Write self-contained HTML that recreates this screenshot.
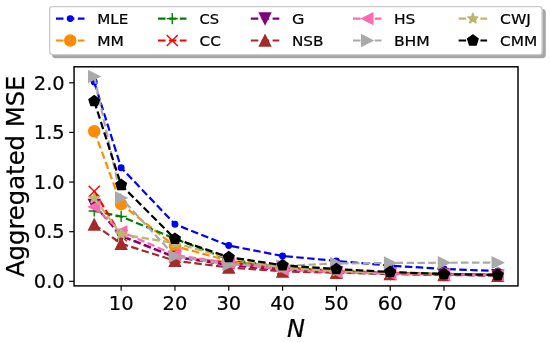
<!DOCTYPE html><html><head><meta charset="utf-8"><style>html,body{margin:0;padding:0;background:#fff;width:550px;height:342px;overflow:hidden}svg{display:block}text{font-family:"DejaVu Sans","Liberation Sans",sans-serif;fill:#000;stroke:#000;stroke-width:0.22px}</style></head><body>
<svg width="550" height="342" viewBox="0 0 550 342">
<rect width="550" height="342" fill="#fff"/>
<rect x="52.7" y="9.6" width="492.4" height="48" rx="2.78" fill="#a6a6a6" stroke="#a6a6a6" stroke-width="1.39"/>
<rect x="49.7" y="6.6" width="492.4" height="48" rx="2.78" fill="#fff" stroke="#cccccc" stroke-width="1.39"/>
<path d="M56 18.6H84.5" stroke="#0000ff" stroke-width="2.2" stroke-dasharray="7.5 3.4" fill="none"/>
<g transform="translate(70.25 18.6)" fill="#0000ff" stroke="#0000ff" stroke-width="1.39"><circle cx="0" cy="0" r="2.78"/></g>
<text x="97.2" y="23.65" font-size="14.8" textLength="31.03" lengthAdjust="spacingAndGlyphs">MLE</text>
<path d="M56 40.5H84.5" stroke="#ff8c00" stroke-width="2.2" stroke-dasharray="7.5 3.4" fill="none"/>
<g transform="translate(70.25 40.5)" fill="#ff8c00" stroke="#ff8c00" stroke-width="1.39"><circle cx="0" cy="0" r="5.56"/></g>
<text x="97.2" y="45.5" font-size="14.8" textLength="26.65" lengthAdjust="spacingAndGlyphs">MM</text>
<path d="M158 18.6H186.5" stroke="#008000" stroke-width="2.2" stroke-dasharray="7.5 3.4" fill="none"/>
<g transform="translate(172.25 18.6)" fill="#008000" stroke="#008000" stroke-width="1.39"><path d="M-5.56 0H5.56M0 -5.56V5.56" fill="none"/></g>
<text x="199.6" y="23.65" font-size="14.8" textLength="19.58" lengthAdjust="spacingAndGlyphs">CS</text>
<path d="M158 40.5H186.5" stroke="#ff0000" stroke-width="2.2" stroke-dasharray="7.5 3.4" fill="none"/>
<g transform="translate(172.25 40.5)" fill="#ff0000" stroke="#ff0000" stroke-width="1.39"><path d="M-5.56 -5.56L5.56 5.56M-5.56 5.56L5.56 -5.56" fill="none"/></g>
<text x="199.6" y="45.5" font-size="14.8" textLength="21.33" lengthAdjust="spacingAndGlyphs">CC</text>
<path d="M250.8 18.6H279.3" stroke="#800080" stroke-width="2.2" stroke-dasharray="7.5 3.4" fill="none"/>
<g transform="translate(265.05 18.6)" fill="#800080" stroke="#800080" stroke-width="1.39"><path d="M-5.56 -5.56L5.56 -5.56L0 5.56Z" stroke-linejoin="miter"/></g>
<text x="292" y="23.65" font-size="14.8" textLength="12.41" lengthAdjust="spacingAndGlyphs">G</text>
<path d="M250.8 40.5H279.3" stroke="#a52a2a" stroke-width="2.2" stroke-dasharray="7.5 3.4" fill="none"/>
<g transform="translate(265.05 40.5)" fill="#a52a2a" stroke="#a52a2a" stroke-width="1.39"><path d="M0 -5.56L-5.56 5.56L5.56 5.56Z" stroke-linejoin="miter"/></g>
<text x="292" y="45.5" font-size="14.8" textLength="31.47" lengthAdjust="spacingAndGlyphs">NSB</text>
<path d="M353 18.6H381.5" stroke="#ff69b4" stroke-width="2.2" stroke-dasharray="7.5 3.4" fill="none"/>
<g transform="translate(367.25 18.6)" fill="#ff69b4" stroke="#ff69b4" stroke-width="1.39"><path d="M-5.56 0L5.56 -5.56L5.56 5.56Z" stroke-linejoin="miter"/></g>
<text x="393.9" y="23.65" font-size="14.8" textLength="21.42" lengthAdjust="spacingAndGlyphs">HS</text>
<path d="M353 40.5H381.5" stroke="#a9a9a9" stroke-width="2.2" stroke-dasharray="7.5 3.4" fill="none"/>
<g transform="translate(367.25 40.5)" fill="#a9a9a9" stroke="#a9a9a9" stroke-width="1.39"><path d="M5.56 0L-5.56 -5.56L-5.56 5.56Z" stroke-linejoin="miter"/></g>
<text x="393.9" y="45.5" font-size="14.8" textLength="35.94" lengthAdjust="spacingAndGlyphs">BHM</text>
<path d="M458.6 18.6H487.1" stroke="#bdb76b" stroke-width="2.2" stroke-dasharray="7.5 3.4" fill="none"/>
<g transform="translate(472.85 18.6)" fill="#bdb76b" stroke="#bdb76b" stroke-width="1.39"><path d="M0 -5.56L-1.25 -1.72L-5.28 -1.72L-2.02 0.66L-3.27 4.49L-0 2.12L3.27 4.49L2.02 0.66L5.28 -1.72L1.25 -1.72Z" stroke-linejoin="bevel"/></g>
<text x="500.1" y="23.65" font-size="14.8" textLength="30.85" lengthAdjust="spacingAndGlyphs">CWJ</text>
<path d="M458.6 40.5H487.1" stroke="#000000" stroke-width="2.2" stroke-dasharray="7.5 3.4" fill="none"/>
<g transform="translate(472.85 40.5)" fill="#000000" stroke="#000000" stroke-width="1.39"><path d="M0 -5.56L-5.28 -1.72L-3.27 4.49L3.27 4.49L5.28 -1.72Z" stroke-linejoin="miter"/></g>
<text x="500.1" y="45.5" font-size="14.8" textLength="37.19" lengthAdjust="spacingAndGlyphs">CMM</text>
<polyline points="94.23,82.01 121.14,167.66 174.95,224.23 228.76,245.57 282.57,255.99 336.38,260.95 390.2,265.62 444.01,268.99 497.82,271.08" fill="none" stroke="#0000ff" stroke-width="2.2" stroke-dasharray="7.5 3.4" stroke-linejoin="round"/>
<g transform="translate(94.23 82.01)" fill="#0000ff" stroke="#0000ff" stroke-width="1.39"><circle cx="0" cy="0" r="2.78"/></g>
<g transform="translate(121.14 167.66)" fill="#0000ff" stroke="#0000ff" stroke-width="1.39"><circle cx="0" cy="0" r="2.78"/></g>
<g transform="translate(174.95 224.23)" fill="#0000ff" stroke="#0000ff" stroke-width="1.39"><circle cx="0" cy="0" r="2.78"/></g>
<g transform="translate(228.76 245.57)" fill="#0000ff" stroke="#0000ff" stroke-width="1.39"><circle cx="0" cy="0" r="2.78"/></g>
<g transform="translate(282.57 255.99)" fill="#0000ff" stroke="#0000ff" stroke-width="1.39"><circle cx="0" cy="0" r="2.78"/></g>
<g transform="translate(336.38 260.95)" fill="#0000ff" stroke="#0000ff" stroke-width="1.39"><circle cx="0" cy="0" r="2.78"/></g>
<g transform="translate(390.2 265.62)" fill="#0000ff" stroke="#0000ff" stroke-width="1.39"><circle cx="0" cy="0" r="2.78"/></g>
<g transform="translate(444.01 268.99)" fill="#0000ff" stroke="#0000ff" stroke-width="1.39"><circle cx="0" cy="0" r="2.78"/></g>
<g transform="translate(497.82 271.08)" fill="#0000ff" stroke="#0000ff" stroke-width="1.39"><circle cx="0" cy="0" r="2.78"/></g>
<polyline points="94.23,131.23 121.14,204.18 174.95,246.07 228.76,260.95 282.57,266.91 336.38,270.58 390.2,272.67 444.01,273.76 497.82,274.55" fill="none" stroke="#ff8c00" stroke-width="2.2" stroke-dasharray="7.5 3.4" stroke-linejoin="round"/>
<g transform="translate(94.23 131.23)" fill="#ff8c00" stroke="#ff8c00" stroke-width="1.39"><circle cx="0" cy="0" r="5.56"/></g>
<g transform="translate(121.14 204.18)" fill="#ff8c00" stroke="#ff8c00" stroke-width="1.39"><circle cx="0" cy="0" r="5.56"/></g>
<g transform="translate(174.95 246.07)" fill="#ff8c00" stroke="#ff8c00" stroke-width="1.39"><circle cx="0" cy="0" r="5.56"/></g>
<g transform="translate(228.76 260.95)" fill="#ff8c00" stroke="#ff8c00" stroke-width="1.39"><circle cx="0" cy="0" r="5.56"/></g>
<g transform="translate(282.57 266.91)" fill="#ff8c00" stroke="#ff8c00" stroke-width="1.39"><circle cx="0" cy="0" r="5.56"/></g>
<g transform="translate(336.38 270.58)" fill="#ff8c00" stroke="#ff8c00" stroke-width="1.39"><circle cx="0" cy="0" r="5.56"/></g>
<g transform="translate(390.2 272.67)" fill="#ff8c00" stroke="#ff8c00" stroke-width="1.39"><circle cx="0" cy="0" r="5.56"/></g>
<g transform="translate(444.01 273.76)" fill="#ff8c00" stroke="#ff8c00" stroke-width="1.39"><circle cx="0" cy="0" r="5.56"/></g>
<g transform="translate(497.82 274.55)" fill="#ff8c00" stroke="#ff8c00" stroke-width="1.39"><circle cx="0" cy="0" r="5.56"/></g>
<polyline points="94.23,210.93 121.14,216.49 174.95,238.72 228.76,259.47 282.57,267.21 336.38,270.78 390.2,272.76 444.01,273.86 497.82,274.55" fill="none" stroke="#008000" stroke-width="2.2" stroke-dasharray="7.5 3.4" stroke-linejoin="round"/>
<g transform="translate(94.23 210.93)" fill="#008000" stroke="#008000" stroke-width="1.39"><path d="M-5.56 0H5.56M0 -5.56V5.56" fill="none"/></g>
<g transform="translate(121.14 216.49)" fill="#008000" stroke="#008000" stroke-width="1.39"><path d="M-5.56 0H5.56M0 -5.56V5.56" fill="none"/></g>
<g transform="translate(174.95 238.72)" fill="#008000" stroke="#008000" stroke-width="1.39"><path d="M-5.56 0H5.56M0 -5.56V5.56" fill="none"/></g>
<g transform="translate(228.76 259.47)" fill="#008000" stroke="#008000" stroke-width="1.39"><path d="M-5.56 0H5.56M0 -5.56V5.56" fill="none"/></g>
<g transform="translate(282.57 267.21)" fill="#008000" stroke="#008000" stroke-width="1.39"><path d="M-5.56 0H5.56M0 -5.56V5.56" fill="none"/></g>
<g transform="translate(336.38 270.78)" fill="#008000" stroke="#008000" stroke-width="1.39"><path d="M-5.56 0H5.56M0 -5.56V5.56" fill="none"/></g>
<g transform="translate(390.2 272.76)" fill="#008000" stroke="#008000" stroke-width="1.39"><path d="M-5.56 0H5.56M0 -5.56V5.56" fill="none"/></g>
<g transform="translate(444.01 273.86)" fill="#008000" stroke="#008000" stroke-width="1.39"><path d="M-5.56 0H5.56M0 -5.56V5.56" fill="none"/></g>
<g transform="translate(497.82 274.55)" fill="#008000" stroke="#008000" stroke-width="1.39"><path d="M-5.56 0H5.56M0 -5.56V5.56" fill="none"/></g>
<polyline points="94.23,191.38 121.14,235.65 174.95,257.48 228.76,262.44 282.57,268.89 336.38,271.87 390.2,273.36 444.01,274.35 497.82,274.95" fill="none" stroke="#ff0000" stroke-width="2.2" stroke-dasharray="7.5 3.4" stroke-linejoin="round"/>
<g transform="translate(94.23 191.38)" fill="#ff0000" stroke="#ff0000" stroke-width="1.39"><path d="M-5.56 -5.56L5.56 5.56M-5.56 5.56L5.56 -5.56" fill="none"/></g>
<g transform="translate(121.14 235.65)" fill="#ff0000" stroke="#ff0000" stroke-width="1.39"><path d="M-5.56 -5.56L5.56 5.56M-5.56 5.56L5.56 -5.56" fill="none"/></g>
<g transform="translate(174.95 257.48)" fill="#ff0000" stroke="#ff0000" stroke-width="1.39"><path d="M-5.56 -5.56L5.56 5.56M-5.56 5.56L5.56 -5.56" fill="none"/></g>
<g transform="translate(228.76 262.44)" fill="#ff0000" stroke="#ff0000" stroke-width="1.39"><path d="M-5.56 -5.56L5.56 5.56M-5.56 5.56L5.56 -5.56" fill="none"/></g>
<g transform="translate(282.57 268.89)" fill="#ff0000" stroke="#ff0000" stroke-width="1.39"><path d="M-5.56 -5.56L5.56 5.56M-5.56 5.56L5.56 -5.56" fill="none"/></g>
<g transform="translate(336.38 271.87)" fill="#ff0000" stroke="#ff0000" stroke-width="1.39"><path d="M-5.56 -5.56L5.56 5.56M-5.56 5.56L5.56 -5.56" fill="none"/></g>
<g transform="translate(390.2 273.36)" fill="#ff0000" stroke="#ff0000" stroke-width="1.39"><path d="M-5.56 -5.56L5.56 5.56M-5.56 5.56L5.56 -5.56" fill="none"/></g>
<g transform="translate(444.01 274.35)" fill="#ff0000" stroke="#ff0000" stroke-width="1.39"><path d="M-5.56 -5.56L5.56 5.56M-5.56 5.56L5.56 -5.56" fill="none"/></g>
<g transform="translate(497.82 274.95)" fill="#ff0000" stroke="#ff0000" stroke-width="1.39"><path d="M-5.56 -5.56L5.56 5.56M-5.56 5.56L5.56 -5.56" fill="none"/></g>
<polyline points="94.23,204.88 121.14,236.04 174.95,256.98 228.76,265.02 282.57,270.38 336.38,272.37 390.2,273.76 444.01,274.65 497.82,275.35" fill="none" stroke="#800080" stroke-width="2.2" stroke-dasharray="7.5 3.4" stroke-linejoin="round"/>
<g transform="translate(94.23 204.88)" fill="#800080" stroke="#800080" stroke-width="1.39"><path d="M-5.56 -5.56L5.56 -5.56L0 5.56Z" stroke-linejoin="miter"/></g>
<g transform="translate(121.14 236.04)" fill="#800080" stroke="#800080" stroke-width="1.39"><path d="M-5.56 -5.56L5.56 -5.56L0 5.56Z" stroke-linejoin="miter"/></g>
<g transform="translate(174.95 256.98)" fill="#800080" stroke="#800080" stroke-width="1.39"><path d="M-5.56 -5.56L5.56 -5.56L0 5.56Z" stroke-linejoin="miter"/></g>
<g transform="translate(228.76 265.02)" fill="#800080" stroke="#800080" stroke-width="1.39"><path d="M-5.56 -5.56L5.56 -5.56L0 5.56Z" stroke-linejoin="miter"/></g>
<g transform="translate(282.57 270.38)" fill="#800080" stroke="#800080" stroke-width="1.39"><path d="M-5.56 -5.56L5.56 -5.56L0 5.56Z" stroke-linejoin="miter"/></g>
<g transform="translate(336.38 272.37)" fill="#800080" stroke="#800080" stroke-width="1.39"><path d="M-5.56 -5.56L5.56 -5.56L0 5.56Z" stroke-linejoin="miter"/></g>
<g transform="translate(390.2 273.76)" fill="#800080" stroke="#800080" stroke-width="1.39"><path d="M-5.56 -5.56L5.56 -5.56L0 5.56Z" stroke-linejoin="miter"/></g>
<g transform="translate(444.01 274.65)" fill="#800080" stroke="#800080" stroke-width="1.39"><path d="M-5.56 -5.56L5.56 -5.56L0 5.56Z" stroke-linejoin="miter"/></g>
<g transform="translate(497.82 275.35)" fill="#800080" stroke="#800080" stroke-width="1.39"><path d="M-5.56 -5.56L5.56 -5.56L0 5.56Z" stroke-linejoin="miter"/></g>
<polyline points="94.23,224.53 121.14,243.68 174.95,260.76 228.76,267.41 282.57,271.38 336.38,272.67 390.2,274.05 444.01,274.95 497.82,275.73" fill="none" stroke="#a52a2a" stroke-width="2.2" stroke-dasharray="7.5 3.4" stroke-linejoin="round"/>
<g transform="translate(94.23 224.53)" fill="#a52a2a" stroke="#a52a2a" stroke-width="1.39"><path d="M0 -5.56L-5.56 5.56L5.56 5.56Z" stroke-linejoin="miter"/></g>
<g transform="translate(121.14 243.68)" fill="#a52a2a" stroke="#a52a2a" stroke-width="1.39"><path d="M0 -5.56L-5.56 5.56L5.56 5.56Z" stroke-linejoin="miter"/></g>
<g transform="translate(174.95 260.76)" fill="#a52a2a" stroke="#a52a2a" stroke-width="1.39"><path d="M0 -5.56L-5.56 5.56L5.56 5.56Z" stroke-linejoin="miter"/></g>
<g transform="translate(228.76 267.41)" fill="#a52a2a" stroke="#a52a2a" stroke-width="1.39"><path d="M0 -5.56L-5.56 5.56L5.56 5.56Z" stroke-linejoin="miter"/></g>
<g transform="translate(282.57 271.38)" fill="#a52a2a" stroke="#a52a2a" stroke-width="1.39"><path d="M0 -5.56L-5.56 5.56L5.56 5.56Z" stroke-linejoin="miter"/></g>
<g transform="translate(336.38 272.67)" fill="#a52a2a" stroke="#a52a2a" stroke-width="1.39"><path d="M0 -5.56L-5.56 5.56L5.56 5.56Z" stroke-linejoin="miter"/></g>
<g transform="translate(390.2 274.05)" fill="#a52a2a" stroke="#a52a2a" stroke-width="1.39"><path d="M0 -5.56L-5.56 5.56L5.56 5.56Z" stroke-linejoin="miter"/></g>
<g transform="translate(444.01 274.95)" fill="#a52a2a" stroke="#a52a2a" stroke-width="1.39"><path d="M0 -5.56L-5.56 5.56L5.56 5.56Z" stroke-linejoin="miter"/></g>
<g transform="translate(497.82 275.73)" fill="#a52a2a" stroke="#a52a2a" stroke-width="1.39"><path d="M0 -5.56L-5.56 5.56L5.56 5.56Z" stroke-linejoin="miter"/></g>
<polyline points="94.23,206.86 121.14,231.68 174.95,255 228.76,262.94 282.57,269.59 336.38,272.17 390.2,273.56 444.01,274.55 497.82,275.15" fill="none" stroke="#ff69b4" stroke-width="2.2" stroke-dasharray="7.5 3.4" stroke-linejoin="round"/>
<g transform="translate(94.23 206.86)" fill="#ff69b4" stroke="#ff69b4" stroke-width="1.39"><path d="M-5.56 0L5.56 -5.56L5.56 5.56Z" stroke-linejoin="miter"/></g>
<g transform="translate(121.14 231.68)" fill="#ff69b4" stroke="#ff69b4" stroke-width="1.39"><path d="M-5.56 0L5.56 -5.56L5.56 5.56Z" stroke-linejoin="miter"/></g>
<g transform="translate(174.95 255)" fill="#ff69b4" stroke="#ff69b4" stroke-width="1.39"><path d="M-5.56 0L5.56 -5.56L5.56 5.56Z" stroke-linejoin="miter"/></g>
<g transform="translate(228.76 262.94)" fill="#ff69b4" stroke="#ff69b4" stroke-width="1.39"><path d="M-5.56 0L5.56 -5.56L5.56 5.56Z" stroke-linejoin="miter"/></g>
<g transform="translate(282.57 269.59)" fill="#ff69b4" stroke="#ff69b4" stroke-width="1.39"><path d="M-5.56 0L5.56 -5.56L5.56 5.56Z" stroke-linejoin="miter"/></g>
<g transform="translate(336.38 272.17)" fill="#ff69b4" stroke="#ff69b4" stroke-width="1.39"><path d="M-5.56 0L5.56 -5.56L5.56 5.56Z" stroke-linejoin="miter"/></g>
<g transform="translate(390.2 273.56)" fill="#ff69b4" stroke="#ff69b4" stroke-width="1.39"><path d="M-5.56 0L5.56 -5.56L5.56 5.56Z" stroke-linejoin="miter"/></g>
<g transform="translate(444.01 274.55)" fill="#ff69b4" stroke="#ff69b4" stroke-width="1.39"><path d="M-5.56 0L5.56 -5.56L5.56 5.56Z" stroke-linejoin="miter"/></g>
<g transform="translate(497.82 275.15)" fill="#ff69b4" stroke="#ff69b4" stroke-width="1.39"><path d="M-5.56 0L5.56 -5.56L5.56 5.56Z" stroke-linejoin="miter"/></g>
<polyline points="94.23,76.55 121.14,197.93 174.95,256.29 228.76,264.63 282.57,265.92 336.38,263.44 390.2,262.94 444.01,262.74 497.82,262.64" fill="none" stroke="#a9a9a9" stroke-width="2.2" stroke-dasharray="7.5 3.4" stroke-linejoin="round"/>
<g transform="translate(94.23 76.55)" fill="#a9a9a9" stroke="#a9a9a9" stroke-width="1.39"><path d="M5.56 0L-5.56 -5.56L-5.56 5.56Z" stroke-linejoin="miter"/></g>
<g transform="translate(121.14 197.93)" fill="#a9a9a9" stroke="#a9a9a9" stroke-width="1.39"><path d="M5.56 0L-5.56 -5.56L-5.56 5.56Z" stroke-linejoin="miter"/></g>
<g transform="translate(174.95 256.29)" fill="#a9a9a9" stroke="#a9a9a9" stroke-width="1.39"><path d="M5.56 0L-5.56 -5.56L-5.56 5.56Z" stroke-linejoin="miter"/></g>
<g transform="translate(228.76 264.63)" fill="#a9a9a9" stroke="#a9a9a9" stroke-width="1.39"><path d="M5.56 0L-5.56 -5.56L-5.56 5.56Z" stroke-linejoin="miter"/></g>
<g transform="translate(282.57 265.92)" fill="#a9a9a9" stroke="#a9a9a9" stroke-width="1.39"><path d="M5.56 0L-5.56 -5.56L-5.56 5.56Z" stroke-linejoin="miter"/></g>
<g transform="translate(336.38 263.44)" fill="#a9a9a9" stroke="#a9a9a9" stroke-width="1.39"><path d="M5.56 0L-5.56 -5.56L-5.56 5.56Z" stroke-linejoin="miter"/></g>
<g transform="translate(390.2 262.94)" fill="#a9a9a9" stroke="#a9a9a9" stroke-width="1.39"><path d="M5.56 0L-5.56 -5.56L-5.56 5.56Z" stroke-linejoin="miter"/></g>
<g transform="translate(444.01 262.74)" fill="#a9a9a9" stroke="#a9a9a9" stroke-width="1.39"><path d="M5.56 0L-5.56 -5.56L-5.56 5.56Z" stroke-linejoin="miter"/></g>
<g transform="translate(497.82 262.64)" fill="#a9a9a9" stroke="#a9a9a9" stroke-width="1.39"><path d="M5.56 0L-5.56 -5.56L-5.56 5.56Z" stroke-linejoin="miter"/></g>
<polyline points="94.23,198.43 121.14,234.26 174.95,243.09 228.76,257.98 282.57,267.9 336.38,271.18 390.2,273.06 444.01,274.15 497.82,274.85" fill="none" stroke="#bdb76b" stroke-width="2.2" stroke-dasharray="7.5 3.4" stroke-linejoin="round"/>
<g transform="translate(94.23 198.43)" fill="#bdb76b" stroke="#bdb76b" stroke-width="1.39"><path d="M0 -5.56L-1.25 -1.72L-5.28 -1.72L-2.02 0.66L-3.27 4.49L-0 2.12L3.27 4.49L2.02 0.66L5.28 -1.72L1.25 -1.72Z" stroke-linejoin="bevel"/></g>
<g transform="translate(121.14 234.26)" fill="#bdb76b" stroke="#bdb76b" stroke-width="1.39"><path d="M0 -5.56L-1.25 -1.72L-5.28 -1.72L-2.02 0.66L-3.27 4.49L-0 2.12L3.27 4.49L2.02 0.66L5.28 -1.72L1.25 -1.72Z" stroke-linejoin="bevel"/></g>
<g transform="translate(174.95 243.09)" fill="#bdb76b" stroke="#bdb76b" stroke-width="1.39"><path d="M0 -5.56L-1.25 -1.72L-5.28 -1.72L-2.02 0.66L-3.27 4.49L-0 2.12L3.27 4.49L2.02 0.66L5.28 -1.72L1.25 -1.72Z" stroke-linejoin="bevel"/></g>
<g transform="translate(228.76 257.98)" fill="#bdb76b" stroke="#bdb76b" stroke-width="1.39"><path d="M0 -5.56L-1.25 -1.72L-5.28 -1.72L-2.02 0.66L-3.27 4.49L-0 2.12L3.27 4.49L2.02 0.66L5.28 -1.72L1.25 -1.72Z" stroke-linejoin="bevel"/></g>
<g transform="translate(282.57 267.9)" fill="#bdb76b" stroke="#bdb76b" stroke-width="1.39"><path d="M0 -5.56L-1.25 -1.72L-5.28 -1.72L-2.02 0.66L-3.27 4.49L-0 2.12L3.27 4.49L2.02 0.66L5.28 -1.72L1.25 -1.72Z" stroke-linejoin="bevel"/></g>
<g transform="translate(336.38 271.18)" fill="#bdb76b" stroke="#bdb76b" stroke-width="1.39"><path d="M0 -5.56L-1.25 -1.72L-5.28 -1.72L-2.02 0.66L-3.27 4.49L-0 2.12L3.27 4.49L2.02 0.66L5.28 -1.72L1.25 -1.72Z" stroke-linejoin="bevel"/></g>
<g transform="translate(390.2 273.06)" fill="#bdb76b" stroke="#bdb76b" stroke-width="1.39"><path d="M0 -5.56L-1.25 -1.72L-5.28 -1.72L-2.02 0.66L-3.27 4.49L-0 2.12L3.27 4.49L2.02 0.66L5.28 -1.72L1.25 -1.72Z" stroke-linejoin="bevel"/></g>
<g transform="translate(444.01 274.15)" fill="#bdb76b" stroke="#bdb76b" stroke-width="1.39"><path d="M0 -5.56L-1.25 -1.72L-5.28 -1.72L-2.02 0.66L-3.27 4.49L-0 2.12L3.27 4.49L2.02 0.66L5.28 -1.72L1.25 -1.72Z" stroke-linejoin="bevel"/></g>
<g transform="translate(497.82 274.85)" fill="#bdb76b" stroke="#bdb76b" stroke-width="1.39"><path d="M0 -5.56L-1.25 -1.72L-5.28 -1.72L-2.02 0.66L-3.27 4.49L-0 2.12L3.27 4.49L2.02 0.66L5.28 -1.72L1.25 -1.72Z" stroke-linejoin="bevel"/></g>
<polyline points="94.23,101.16 121.14,185.03 174.95,238.82 228.76,257.18 282.57,265.22 336.38,269.09 390.2,271.97 444.01,274.15 497.82,274.95" fill="none" stroke="#000000" stroke-width="2.2" stroke-dasharray="7.5 3.4" stroke-linejoin="round"/>
<g transform="translate(94.23 101.16)" fill="#000000" stroke="#000000" stroke-width="1.39"><path d="M0 -5.56L-5.28 -1.72L-3.27 4.49L3.27 4.49L5.28 -1.72Z" stroke-linejoin="miter"/></g>
<g transform="translate(121.14 185.03)" fill="#000000" stroke="#000000" stroke-width="1.39"><path d="M0 -5.56L-5.28 -1.72L-3.27 4.49L3.27 4.49L5.28 -1.72Z" stroke-linejoin="miter"/></g>
<g transform="translate(174.95 238.82)" fill="#000000" stroke="#000000" stroke-width="1.39"><path d="M0 -5.56L-5.28 -1.72L-3.27 4.49L3.27 4.49L5.28 -1.72Z" stroke-linejoin="miter"/></g>
<g transform="translate(228.76 257.18)" fill="#000000" stroke="#000000" stroke-width="1.39"><path d="M0 -5.56L-5.28 -1.72L-3.27 4.49L3.27 4.49L5.28 -1.72Z" stroke-linejoin="miter"/></g>
<g transform="translate(282.57 265.22)" fill="#000000" stroke="#000000" stroke-width="1.39"><path d="M0 -5.56L-5.28 -1.72L-3.27 4.49L3.27 4.49L5.28 -1.72Z" stroke-linejoin="miter"/></g>
<g transform="translate(336.38 269.09)" fill="#000000" stroke="#000000" stroke-width="1.39"><path d="M0 -5.56L-5.28 -1.72L-3.27 4.49L3.27 4.49L5.28 -1.72Z" stroke-linejoin="miter"/></g>
<g transform="translate(390.2 271.97)" fill="#000000" stroke="#000000" stroke-width="1.39"><path d="M0 -5.56L-5.28 -1.72L-3.27 4.49L3.27 4.49L5.28 -1.72Z" stroke-linejoin="miter"/></g>
<g transform="translate(444.01 274.15)" fill="#000000" stroke="#000000" stroke-width="1.39"><path d="M0 -5.56L-5.28 -1.72L-3.27 4.49L3.27 4.49L5.28 -1.72Z" stroke-linejoin="miter"/></g>
<g transform="translate(497.82 274.95)" fill="#000000" stroke="#000000" stroke-width="1.39"><path d="M0 -5.56L-5.28 -1.72L-3.27 4.49L3.27 4.49L5.28 -1.72Z" stroke-linejoin="miter"/></g>
<rect x="74.05" y="66.8" width="443.95" height="219.1" fill="none" stroke="#000" stroke-width="1.45" stroke-linejoin="miter"/>
<path d="M121.14 285.9V290.76" stroke="#000" stroke-width="1.2"/>
<text x="121.14" y="310.4" font-size="19.44" text-anchor="middle">10</text>
<path d="M174.95 285.9V290.76" stroke="#000" stroke-width="1.2"/>
<text x="174.95" y="310.4" font-size="19.44" text-anchor="middle">20</text>
<path d="M228.76 285.9V290.76" stroke="#000" stroke-width="1.2"/>
<text x="228.76" y="310.4" font-size="19.44" text-anchor="middle">30</text>
<path d="M282.57 285.9V290.76" stroke="#000" stroke-width="1.2"/>
<text x="282.57" y="310.4" font-size="19.44" text-anchor="middle">40</text>
<path d="M336.38 285.9V290.76" stroke="#000" stroke-width="1.2"/>
<text x="336.38" y="310.4" font-size="19.44" text-anchor="middle">50</text>
<path d="M390.2 285.9V290.76" stroke="#000" stroke-width="1.2"/>
<text x="390.2" y="310.4" font-size="19.44" text-anchor="middle">60</text>
<path d="M444.01 285.9V290.76" stroke="#000" stroke-width="1.2"/>
<text x="444.01" y="310.4" font-size="19.44" text-anchor="middle">70</text>
<path d="M69.19 281.3H74.05" stroke="#000" stroke-width="1.2"/>
<text x="64.73" y="288.1" font-size="19.44" text-anchor="end">0.0</text>
<path d="M69.19 231.68H74.05" stroke="#000" stroke-width="1.2"/>
<text x="64.73" y="238.48" font-size="19.44" text-anchor="end">0.5</text>
<path d="M69.19 182.05H74.05" stroke="#000" stroke-width="1.2"/>
<text x="64.73" y="188.85" font-size="19.44" text-anchor="end">1.0</text>
<path d="M69.19 132.43H74.05" stroke="#000" stroke-width="1.2"/>
<text x="64.73" y="139.23" font-size="19.44" text-anchor="end">1.5</text>
<path d="M69.19 82.8H74.05" stroke="#000" stroke-width="1.2"/>
<text x="64.73" y="89.6" font-size="19.44" text-anchor="end">2.0</text>
<text transform="translate(23.5 176.3) rotate(-90)" font-size="24.3" text-anchor="middle">Aggregated MSE</text>
<text x="295.9" y="337" font-size="24" font-style="italic" text-anchor="middle">N</text>
</svg></body></html>
